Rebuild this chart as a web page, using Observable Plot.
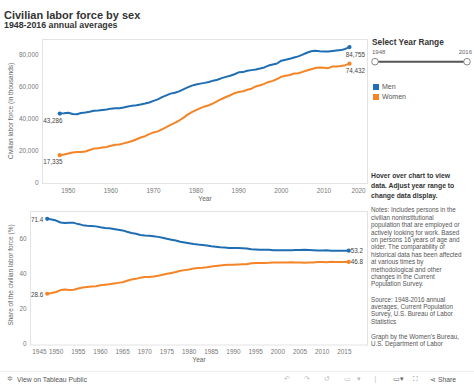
<!DOCTYPE html>
<html>
<head>
<meta charset="utf-8">
<script src="https://cdn.jsdelivr.net/npm/d3@7"></script>
<script src="https://cdn.jsdelivr.net/npm/@observablehq/plot@0.6"></script>
<style>
  html, body { margin: 0; padding: 0; background: #fff; }
  #root { position: relative; width: 474px; height: 387px; overflow: hidden; font-family: "Liberation Sans", Arial, sans-serif; }
  .abs { position: absolute; white-space: nowrap; }
  .title { left: 4px; top: 9px; font-size: 11px; line-height: 12px; font-weight: bold; color: #333; }
  .subtitle { left: 4px; top: 21px; font-size: 8.8px; line-height: 9px; font-weight: bold; color: #333; }
  .ylab { font-size: 6.5px; color: #666; transform: translate(-50%, -50%) rotate(-90deg); }
  .note { font-size: 6.3px; line-height: 7.4px; color: #555; }
  .hover { font-size: 6.8px; line-height: 9.8px; font-weight: bold; color: #333; }
  .footer { left: 0; top: 371px; width: 474px; height: 16px; border-top: 1px solid #eee; font-size: 6.8px; color: #555; }
</style>
</head>
<body>
<div id="root">
  <div class="abs title">Civilian labor force by sex</div>
  <div class="abs subtitle">1948-2016 annual averages</div>
  <div id="topChart" class="abs" style="left:0;top:30px;"></div>
  <div id="bottomChart" class="abs" style="left:0;top:205px;"></div>
  <div class="abs ylab" style="left:10px;top:110.5px;">Civilian labor force (in thousands)</div>
  <div class="abs ylab" style="left:10px;top:275px;">Share of the civilian labor force (%)</div>

  <div class="abs" style="left:372px;top:37.5px;font-size:8.3px;line-height:9px;font-weight:bold;color:#333;">Select Year Range</div>
  <div class="abs" style="left:372px;top:48.5px;font-size:6px;line-height:7px;color:#666;" id="rangeStart"></div>
  <div class="abs" style="right:2px;top:48.5px;font-size:6px;line-height:7px;color:#666;" id="rangeEnd"></div>
  <svg class="abs" style="left:370px;top:55px;" width="104" height="14">
    <line x1="5" y1="6.7" x2="97" y2="6.7" stroke="#555" stroke-width="2"/>
    <circle cx="5" cy="6.7" r="3.3" fill="#fff" stroke="#888" stroke-width="1"/>
    <circle cx="97" cy="6.7" r="3.3" fill="#fff" stroke="#888" stroke-width="1"/>
  </svg>
  <div id="legend"></div>

  <div class="abs hover" style="left:371px;top:171px;">Hover over chart to view<br>data. Adjust year range to<br>change data display.</div>
  <div class="abs note" style="left:371px;top:206.3px;">Notes: Includes persons in the<br>civilian noninstitutional<br>population that are employed or<br>actively looking for work. Based<br>on persons 16 years of age and<br>older. The comparability of<br>historical data has been affected<br>at various times by<br>methodological and other<br>changes in the Current<br>Population Survey.</div>
  <div class="abs note" style="left:371px;top:295.6px;">Source: 1948-2016 annual<br>averages, Current Population<br>Survey, U.S. Bureau of Labor<br>Statistics</div>
  <div class="abs note" style="left:371px;top:333px;">Graph by the Women's Bureau,<br>U.S. Department of Labor</div>

  <div class="abs footer">
    <span class="abs" style="left:7px;top:3px;color:#888;">✲</span>
    <span class="abs" style="left:17px;top:4px;">View on Tableau Public</span>
    <span class="abs" style="left:284px;top:3px;color:#bbb;letter-spacing:6px;">↶ ↷ ↺ ▭▾ |</span>
    <span class="abs" style="left:393px;top:3px;color:#666;">▭▾</span>
    <span class="abs" style="left:413px;top:3px;color:#666;">⛶</span>
    <span class="abs" style="left:430px;top:4px;color:#555;">⋖ Share</span>
  </div>
</div>
<script>
// ---- data ----
const sexes = ["Men", "Women"];
const sexColors = ["#1f6db2", "#f58426"];
const startYear = 1948;
const endYear = 2016;
const years = d3.range(startYear, endYear + 1);

// Civilian labor force, thousands (annual averages)
const menLF = [43286, 43498, 43819, 43001, 42869, 43633, 43965, 44475, 45091, 45197,
  45521, 45886, 46388, 46653, 46600, 47129, 47679, 48255, 48471, 48987,
  49533, 50221, 51228, 52180, 53555, 54624, 55739, 56299, 57174, 58396,
  59620, 60726, 61453, 61974, 62450, 63047, 63835, 64411, 65422, 66207,
  66927, 67840, 69011, 69168, 69964, 70404, 70817, 71360, 72087, 73261,
  73959, 74512, 76280, 76886, 77500, 78238, 78980, 80033, 81255, 82136,
  82520, 82123, 81985, 81975, 82327, 82667, 82882, 83620, 84755];
const womenLF = [17335, 17788, 18389, 19016, 19269, 19382, 19678, 20548, 21461, 21732,
  22118, 22483, 23240, 23806, 24014, 24704, 25412, 26200, 27299, 28360,
  29204, 30513, 31543, 32202, 33479, 34804, 36211, 37475, 38983, 40613,
  42631, 44235, 45487, 46696, 47755, 48503, 49709, 51050, 52413, 53658,
  54742, 56030, 56829, 57178, 58141, 58795, 60239, 60944, 61857, 63036,
  63714, 64855, 66303, 66848, 67363, 68272, 68421, 69288, 70173, 70988,
  71767, 72019, 71904, 71642, 72648, 72722, 73039, 73510, 74432];

// Share of the civilian labor force (%)
const menShare = [71.4, 71.0, 70.4, 69.3, 69.0, 69.2, 69.1, 68.4, 67.8, 67.5,
  67.3, 67.1, 66.6, 66.2, 66.0, 65.6, 65.2, 64.8, 64.0, 63.3,
  62.9, 62.2, 61.9, 61.8, 61.5, 61.1, 60.6, 60.0, 59.5, 59.0,
  58.3, 57.9, 57.5, 57.0, 56.7, 56.5, 56.2, 55.8, 55.5, 55.2,
  55.0, 54.8, 54.8, 54.7, 54.6, 54.5, 54.0, 53.9, 53.8, 53.8,
  53.7, 53.5, 53.5, 53.5, 53.5, 53.4, 53.6, 53.6, 53.7, 53.6,
  53.5, 53.3, 53.3, 53.4, 53.1, 53.2, 53.2, 53.2, 53.2];
const womenShare = [28.6, 29.0, 29.6, 30.7, 31.0, 30.8, 30.9, 31.6, 32.2, 32.5,
  32.7, 32.9, 33.4, 33.8, 34.0, 34.4, 34.8, 35.2, 36.0, 36.7,
  37.1, 37.8, 38.1, 38.2, 38.5, 38.9, 39.4, 40.0, 40.5, 41.0,
  41.7, 42.1, 42.5, 43.0, 43.3, 43.5, 43.8, 44.2, 44.5, 44.8,
  45.0, 45.2, 45.2, 45.3, 45.4, 45.5, 46.0, 46.1, 46.2, 46.2,
  46.3, 46.5, 46.5, 46.5, 46.5, 46.6, 46.4, 46.4, 46.3, 46.4,
  46.5, 46.7, 46.7, 46.6, 46.9, 46.8, 46.8, 46.8, 46.8];

const lfTicks = [0, 20000, 40000, 60000, 80000];
const lfYearTicks = [1950, 1960, 1970, 1980, 1990, 2000, 2010];
const lfLastTick = [2020];
const shareTicks = [0, 20, 40, 60];
const shareYearTicks = [1950, 1955, 1960, 1965, 1970, 1975, 1980, 1985, 1990, 1995, 2000, 2005, 2010, 2015];
const shareFirstTick = [1945];

// ---- tables ----
const lfRows = years.flatMap((y, i) => [
  {year: y, sex: "Men", value: menLF[i]},
  {year: y, sex: "Women", value: womenLF[i]}
]);
const shareRows = years.flatMap((y, i) => [
  {year: y, sex: "Men", value: menShare[i]},
  {year: y, sex: "Women", value: womenShare[i]}
]);
const firsts = rows => rows.filter(d => d.year === startYear);
const lasts = rows => rows.filter(d => d.year === endYear);

document.getElementById("rangeStart").textContent = startYear;
document.getElementById("rangeEnd").textContent = endYear;

const font = "'Liberation Sans', Arial, sans-serif";
const baseStyle = {fontFamily: font, fontSize: "6.4px", color: "#777", background: "transparent", overflow: "visible"};
const colorScale = {domain: sexes, range: sexColors};
const axisOpts = {tickSize: 0, label: null, fill: "#777"};

const topPlot = Plot.plot({
  width: 372, height: 180,
  marginTop: 9, marginBottom: 27, marginLeft: 42, marginRight: 5,
  style: baseStyle,
  x: {domain: [1943.94, 2020.23]},
  y: {domain: [-300, 89500]},
  color: colorScale,
  marks: [
    Plot.frame({stroke: "#e3e3e3"}),
    Plot.axisY(lfTicks, {...axisOpts, tickPadding: 4, tickFormat: d3.format(",")}),
    Plot.axisX(lfYearTicks, {...axisOpts, tickPadding: 5, tickFormat: "d"}),
    Plot.axisX(lfLastTick, {...axisOpts, tickPadding: 5, tickFormat: "d", dx: -8}),
    Plot.line(lfRows, {x: "year", y: "value", stroke: "sex", z: "sex", strokeWidth: 2}),
    Plot.dot([...firsts(lfRows), ...lasts(lfRows)], {x: "year", y: "value", fill: "sex", r: 2.1}),
    Plot.text(firsts(lfRows), {x: "year", y: "value", text: d => d3.format(",")(d.value), dx: -7, dy: 7, fill: "#444", fontSize: 6.3}),
    Plot.text(lasts(lfRows), {x: "year", y: "value", text: d => d3.format(",")(d.value), dx: 6, dy: 7.5, fill: "#444", fontSize: 6.3}),
    Plot.text(["Year"], {frameAnchor: "bottom", dy: 17.7, fill: "#666", fontSize: 6.6})
  ]
});
document.getElementById("topChart").appendChild(topPlot);

const bottomPlot = Plot.plot({
  width: 372, height: 165,
  marginTop: 6, marginBottom: 25.5, marginLeft: 30, marginRight: 5,
  style: baseStyle,
  x: {domain: [1944.23, 2020.22]},
  y: {domain: [-0.7, 75.6]},
  color: colorScale,
  marks: [
    Plot.frame({stroke: "#e3e3e3"}),
    Plot.axisY(shareTicks, {...axisOpts, tickPadding: 4}),
    Plot.axisX(shareYearTicks, {...axisOpts, tickPadding: 4, tickFormat: "d"}),
    Plot.axisX(shareFirstTick, {...axisOpts, tickPadding: 4, tickFormat: "d", dx: 5.5}),
    Plot.line(shareRows, {x: "year", y: "value", stroke: "sex", z: "sex", strokeWidth: 2}),
    Plot.dot([...firsts(shareRows), ...lasts(shareRows)], {x: "year", y: "value", fill: "sex", r: 2.1}),
    Plot.text(firsts(shareRows), {x: "year", y: "value", text: d => d.value.toFixed(1), textAnchor: "end", dx: -4, dy: 1, fill: "#444", fontSize: 6.3}),
    Plot.text(lasts(shareRows), {x: "year", y: "value", text: d => d.value.toFixed(1), textAnchor: "start", dx: 2, fill: "#444", fontSize: 6.3}),
    Plot.text(["Year"], {frameAnchor: "bottom", dy: 16.5, fill: "#666", fontSize: 6.6})
  ]
});
document.getElementById("bottomChart").appendChild(bottomPlot);

// legend
const legend = document.getElementById("legend");
sexes.forEach((s, i) => {
  const sw = document.createElement("div");
  sw.className = "abs";
  sw.style.cssText = `left:372.5px;top:${84 + i * 10}px;width:6.5px;height:6px;background:${sexColors[i]};`;
  legend.appendChild(sw);
  const t = document.createElement("div");
  t.className = "abs";
  t.style.cssText = `left:382px;top:${83 + i * 10}px;font-size:7px;line-height:8px;color:#555;`;
  t.textContent = s;
  legend.appendChild(t);
});
</script>
</body>
</html>
